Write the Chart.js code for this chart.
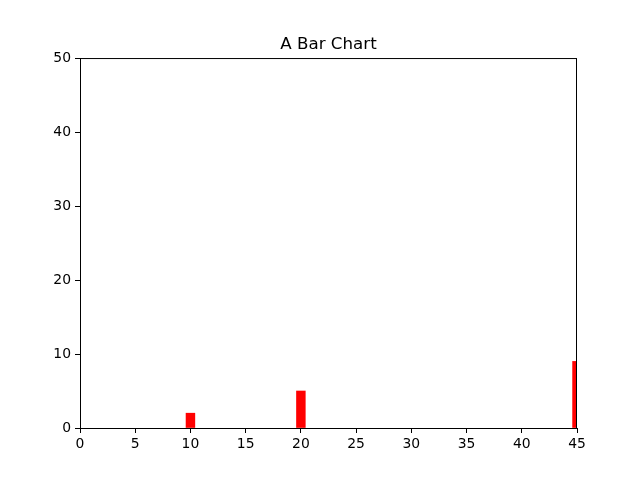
<!DOCTYPE html>
<html>
<head>
<meta charset="utf-8">
<script src="https://cdn.jsdelivr.net/npm/chart.js@4/dist/chart.umd.min.js"></script>
<style>
  html, body { margin: 0; padding: 0; background: #fff; }
</style>
</head>
<body>
<canvas id="barChart" width="640" height="480"></canvas>
<script>
// data
const xValues = [10, 20, 45];
const barHeights = [2, 5, 9];
const xTicks = [0, 5, 10, 15, 20, 25, 30, 35, 40, 45];
const yTicks = [0, 10, 20, 30, 40, 50];

// black box round the plot area, like matplotlib spines
const frame = {
  id: "frame",
  afterDatasetsDraw(chart) {
    const { ctx, chartArea: a } = chart;
    ctx.save();
    ctx.strokeStyle = "#000";
    ctx.lineWidth = 1;
    ctx.strokeRect(a.left + 0.5, a.top + 0.5, a.right - a.left - 1, a.bottom - a.top);
    ctx.restore();
  },
};

Chart.defaults.font.family = "'DejaVu Sans', sans-serif";
Chart.defaults.color = "#000";

new Chart(document.getElementById("barChart"), {
  type: "bar",
  data: {
    datasets: [
      {
        data: xValues.map((x, i) => ({ x: x, y: barHeights[i] })),
        backgroundColor: "#ff0000",
        borderWidth: 0,
        barThickness: 8.8,
        clip: 0,
      },
    ],
  },
  options: {
    responsive: false,
    animation: false,
    devicePixelRatio: 1,
    layout: { padding: { left: 0, right: 63, top: 0, bottom: 0 } },
    plugins: {
      legend: { display: false },
      tooltip: { enabled: false },
      title: {
        display: true,
        text: "A Bar Chart",
        fullSize: false,
        font: { size: 16.7, weight: "normal" },
        color: "#000",
        padding: { top: 35, bottom: 3 },
      },
    },
    scales: {
      x: {
        type: "linear",
        min: xTicks[0],
        max: xTicks[xTicks.length - 1],
        offset: false,
        afterBuildTicks: (s) => { s.ticks = xTicks.map((v) => ({ value: v })); },
        afterFit: (s) => { s.height = 52; },
        ticks: { font: { size: 13.9 }, padding: 3, maxRotation: 0 },
        grid: { display: true, drawOnChartArea: false, drawTicks: true, tickLength: 5, color: "#000", offset: false },
        border: { display: true, color: "#000" },
      },
      y: {
        min: yTicks[0],
        max: yTicks[yTicks.length - 1],
        afterBuildTicks: (s) => { s.ticks = yTicks.map((v) => ({ value: v })); },
        afterFit: (s) => { s.width = 80; },
        ticks: { font: { size: 13.9 }, padding: 4 },
        grid: { display: true, drawOnChartArea: false, drawTicks: true, tickLength: 5, color: "#000" },
        border: { display: true, color: "#000" },
      },
    },
  },
  plugins: [frame],
});
</script>
</body>
</html>
